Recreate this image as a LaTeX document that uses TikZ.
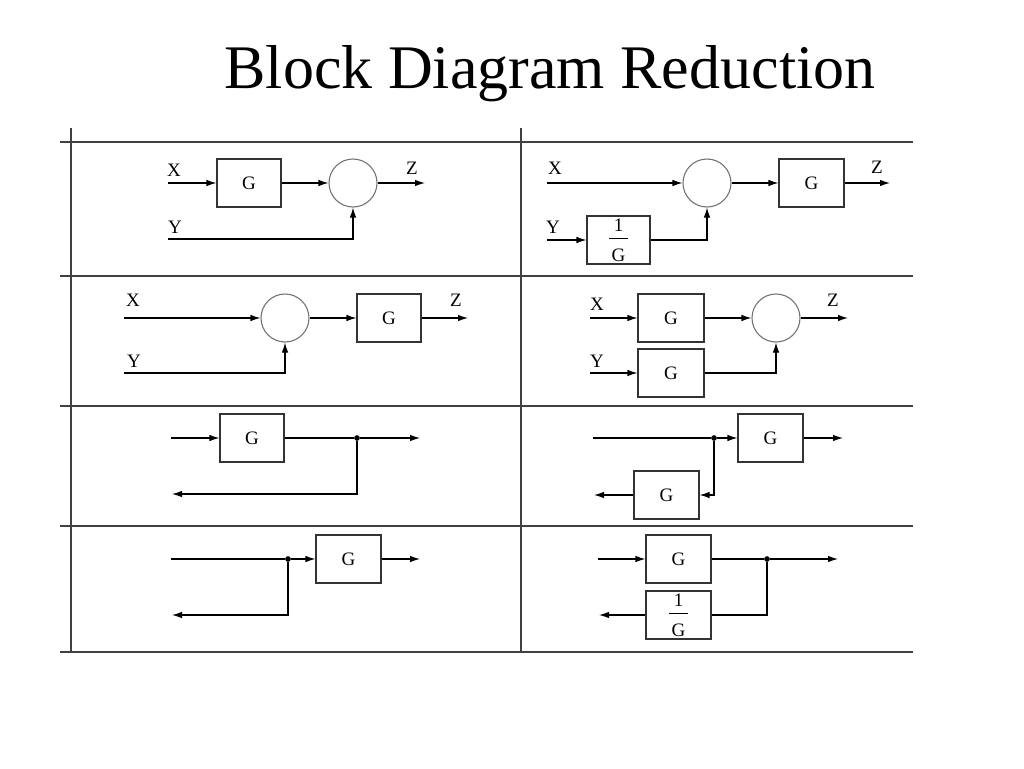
\documentclass[tikz,border=0pt]{standalone}
\usepackage{fontspec}
\setmainfont{Liberation Serif}
\usetikzlibrary{arrows.meta}

\begin{document}
\begin{tikzpicture}[x=1pt,y=-1pt]
	\path [use as bounding box] (0,0) rectangle (1024,768);
	\tikzstyle{block} = [draw=black!80, line width=1.1pt, minimum width=64pt, minimum height=48pt, inner sep=0pt, font=\fontsize{19}{15}\selectfont, align=center]
	\tikzstyle{sum} = [circle, draw=black!55, line width=1.1pt, minimum size=48pt, inner sep=0pt]
	\tikzstyle{dot} = [circle, fill, inner sep=2pt]
	\tikzstyle{lbl} = [inner sep=0pt, font=\fontsize{19}{22}\selectfont]
	\tikzstyle{line} = [line width=1.1pt, -{Latex[length=10pt,width=6.5pt]}]
	\tikzstyle{wire} = [line width=1.1pt]
	\tikzstyle{grid} = [line width=1.2pt, draw=black!75]

	% title
	\node[font=\fontsize{62}{70}\selectfont, anchor=base] (title) at (550,88) {Block Diagram Reduction};

	% table
	\foreach \y in {142,276,406,526,652}
		\draw[grid] (60,\y) -- (913,\y);
	\draw[grid] (71,128) -- (71,652);
	\draw[grid] (521,128) -- (521,652);

	% row 1, left
	\coordinate (Xa) at (168,183);
	\coordinate (Ya) at (168,239);
	\coordinate (Za) at (425,183);
	\node[block] (Ga) at (249,183) {G};
	\node[sum] (Sa) at (353,183) {};
	\node[lbl] (xa) at (174,170) {X};
	\node[lbl] (ya) at (175,227) {Y};
	\node[lbl] (za) at (412,168) {Z};
	\draw[line] (Xa) -- (Ga);
	\draw[line] (Ga) -- (Sa);
	\draw[line] (Sa) -- (Za);
	\draw[line] (Ya) -| (Sa);

	% row 1, right
	\coordinate (Xb) at (547,183);
	\coordinate (Yb) at (547,240);
	\coordinate (Zb) at (890,183);
	\node[sum] (Sb) at (707,183) {};
	\node[block, minimum width=65pt] (Gb) at (811.5,183) {G};
	\node[block, minimum width=63pt] (Hb) at (618.5,240) {1\\\rule[7pt]{19pt}{0.8pt}\\G};
	\node[lbl] (xb) at (555,168) {X};
	\node[lbl] (yb) at (553,227) {Y};
	\node[lbl] (zb) at (877,167) {Z};
	\draw[line] (Xb) -- (Sb);
	\draw[line] (Sb) -- (Gb);
	\draw[line] (Gb) -- (Zb);
	\draw[line] (Yb) -- (Hb);
	\draw[line] (Hb) -| (Sb);

	% row 2, left
	\coordinate (Xc) at (124,318);
	\coordinate (Yc) at (124,373);
	\coordinate (Zc) at (468,318);
	\node[sum] (Sc) at (285,318) {};
	\node[block] (Gc) at (389,318) {G};
	\node[lbl] (xc) at (133,300) {X};
	\node[lbl] (yc) at (134,361) {Y};
	\node[lbl] (zc) at (456,300) {Z};
	\draw[line] (Xc) -- (Sc);
	\draw[line] (Sc) -- (Gc);
	\draw[line] (Gc) -- (Zc);
	\draw[line] (Yc) -| (Sc);

	% row 2, right
	\coordinate (Xd) at (590,318);
	\coordinate (Yd) at (590,373);
	\coordinate (Zd) at (848,318);
	\node[block, minimum width=66pt] (Gd) at (671,318) {G};
	\node[block, minimum width=66pt] (Hd) at (671,373) {G};
	\node[sum] (Sd) at (776,318) {};
	\node[lbl] (xd) at (597,304) {X};
	\node[lbl] (yd) at (597,361) {Y};
	\node[lbl] (zd) at (833,300) {Z};
	\draw[line] (Xd) -- (Gd);
	\draw[line] (Gd) -- (Sd);
	\draw[line] (Sd) -- (Zd);
	\draw[line] (Yd) -- (Hd);
	\draw[line] (Hd) -| (Sd);

	% row 3, left
	\coordinate (Ie) at (171,438);
	\coordinate (Oe) at (420,438);
	\coordinate (Be) at (172,494);
	\node[block] (Ge) at (252,438) {G};
	\node[dot] (Pe) at (357,438) {};
	\draw[line] (Ie) -- (Ge);
	\draw[wire] (Ge) -- (Pe);
	\draw[line] (Pe) -- (Oe);
	\draw[line] (Pe) |- (Be);

	% row 3, right
	\coordinate (Ig) at (593,438);
	\coordinate (Og) at (843,438);
	\coordinate (Bg) at (594,495);
	\node[dot] (Pg) at (714,438) {};
	\node[block, minimum width=65pt] (Gg) at (770.5,438) {G};
	\node[block, minimum width=65pt] (Hg) at (666.5,495) {G};
	\draw[wire] (Ig) -- (Pg);
	\draw[line] (Pg) -- (Gg);
	\draw[line] (Gg) -- (Og);
	\draw[line] (Pg) |- (Hg);
	\draw[line] (Hg) -- (Bg);

	% row 4, left
	\coordinate (If) at (171,559);
	\coordinate (Of) at (420,559);
	\coordinate (Bf) at (172,615);
	\node[dot] (Pf) at (288,559) {};
	\node[block, minimum width=65pt] (Gf) at (348.5,559) {G};
	\draw[wire] (If) -- (Pf);
	\draw[line] (Pf) -- (Gf);
	\draw[line] (Gf) -- (Of);
	\draw[line] (Pf) |- (Bf);

	% row 4, right
	\coordinate (Ih) at (598,559);
	\coordinate (Oh) at (838,559);
	\coordinate (Bh) at (599,615);
	\node[block, minimum width=65pt] (Gh) at (678.5,559) {G};
	\node[dot] (Ph) at (767,559) {};
	\node[block, minimum width=65pt] (Hh) at (678.5,615) {1\\\rule[7pt]{19pt}{0.8pt}\\G};
	\draw[line] (Ih) -- (Gh);
	\draw[wire] (Gh) -- (Ph);
	\draw[line] (Ph) -- (Oh);
	\draw[wire] (Ph) |- (Hh);
	\draw[line] (Hh) -- (Bh);
\end{tikzpicture}
\end{document}
